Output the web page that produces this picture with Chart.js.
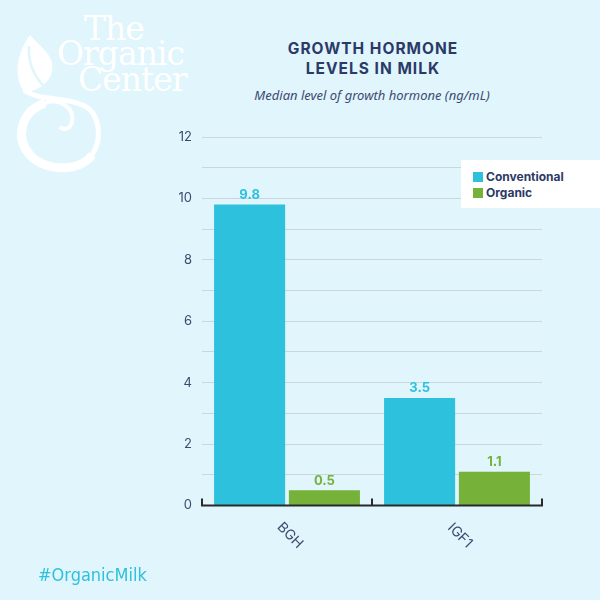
<!DOCTYPE html>
<html>
<head>
<meta charset="utf-8">
<script src="https://cdn.jsdelivr.net/npm/chart.js@4"></script>
<style>
  html, body { margin: 0; padding: 0; }
  body { width: 600px; height: 600px; background: #e0f5fc; position: relative; overflow: hidden; font-family: "Open Sans", sans-serif; }
  #wrap { position: absolute; left: 0; top: 0; width: 600px; height: 600px; }
  .logo-text { position: absolute; color: #fff; font-family: "DejaVu Serif", "Liberation Serif", serif; font-size: 33px; line-height: 26px; letter-spacing: -1px; }
  .title { position: absolute; left: 223px; width: 300px; top: 39px; text-align: center; font-family: Inter, "Open Sans", sans-serif; font-weight: 700; font-size: 15.5px; line-height: 20px; letter-spacing: 1px; color: #2b3a67; }
  .subtitle { position: absolute; left: 222px; width: 300px; top: 86px; text-align: center; font-family: "Noto Sans", sans-serif; font-style: italic; font-size: 13px; color: #3c4a70; }
  .legend { position: absolute; left: 461px; top: 160px; width: 150px; height: 48px; background: #fff; }
  .legend div { position: absolute; left: 12px; font-family: Inter, sans-serif; font-weight: 700; font-size: 12px; color: #2b3a67; }
  .legend span { display: inline-block; width: 10px; height: 10px; margin-right: 3px; vertical-align: -1px; }
  .hashtag { position: absolute; left: 38px; top: 564px; font-family: "Liberation Sans Narrow", "DejaVu Sans Condensed", sans-serif; font-size: 18px; color: #2ec1dd; }
</style>
</head>
<body>
<svg style="position:absolute;left:0;top:0" width="220" height="180">
  <path d="M30 35 C15 55 14 80 25 93 C40 90 55 80 52 63 C50 52 38 45 30 35 Z" fill="#fff"/>
  <path d="M29 46 C28 62 34 78 48 90" stroke="#e0f5fc" stroke-width="2.5" fill="none"/>
  <path d="M24 90 C40 102 70 96 88 108 C100 118 102 140 92 155" stroke="#fff" stroke-width="5" fill="none"/>
  <path d="M92 155 C80 172 45 172 30 155 C15 138 20 112 45 103" stroke="#fff" stroke-width="9" fill="none"/>
  <path d="M45 103 C60 98 75 108 72 122 C70 130 63 130 60 127" stroke="#fff" stroke-width="4" fill="none"/>
</svg>
<div class="logo-text" style="left:84px;top:16px">The</div>
<div class="logo-text" style="left:57px;top:41px">Organic</div>
<div class="logo-text" style="left:78px;top:67px">Center</div>
<div class="title">GROWTH HORMONE<br>LEVELS IN MILK</div>
<div class="subtitle">Median level of growth hormone (ng/mL)</div>
<div id="wrap"><canvas id="chart" width="600" height="600"></canvas></div>
<div class="legend">
  <div style="top:9px"><span style="background:#2ec1dd"></span>Conventional</div>
  <div style="top:25px"><span style="background:#76b13a"></span>Organic</div>
</div>
<div class="hashtag">#OrganicMilk</div>
<script>
const categories = ['BGH', 'IGF1'];
const conventionalValues = [9.8, 3.5];
const organicValues = [0.5, 1.1];
const yTicks = [0, 2, 4, 6, 8, 10, 12];

const cyan = '#2ec1dd';
const green = '#76b13a';
const navy = '#3c4a70';

// draws value labels, the bracket-style x axis and rotated category labels
const decorations = {
  id: 'decorations',
  afterDatasetsDraw(chart) {
    const ctx = chart.ctx;
    const x = chart.scales.x;
    const area = chart.chartArea;
    ctx.save();
    ctx.font = 'bold 13px Inter, sans-serif';
    ctx.textAlign = 'center';
    ctx.textBaseline = 'bottom';
    chart.data.datasets.forEach((ds, i) => {
      chart.getDatasetMeta(i).data.forEach((bar, j) => {
        ctx.fillStyle = ds.backgroundColor;
        ctx.fillText(ds.data[j].toFixed(1), bar.x, bar.y - 3);
      });
    });

    // axis line with upward ticks at category edges
    ctx.strokeStyle = '#2a2a2a';
    ctx.lineWidth = 2;
    ctx.beginPath();
    ctx.moveTo(area.left, area.bottom - 7);
    ctx.lineTo(area.left, area.bottom);
    ctx.lineTo(area.right, area.bottom);
    ctx.lineTo(area.right, area.bottom - 7);
    ctx.stroke();
    const half = (x.getPixelForValue(1) - x.getPixelForValue(0)) / 2;
    for (let i = 1; i < categories.length; i++) {
      const px = x.getPixelForValue(i) - half;
      ctx.beginPath();
      ctx.moveTo(px, area.bottom);
      ctx.lineTo(px, area.bottom - 7);
      ctx.stroke();
    }

    ctx.fillStyle = navy;
    ctx.font = '14px Inter, sans-serif';
    ctx.textBaseline = 'middle';
    categories.forEach((c, i) => {
      const px = x.getPixelForValue(i);
      ctx.save();
      ctx.translate(px + 3, area.bottom + 30);
      ctx.rotate(Math.PI / 4);
      ctx.fillText(c, 0, 0);
      ctx.restore();
    });
    ctx.restore();
  }
};

new Chart(document.getElementById('chart'), {
  type: 'bar',
  data: {
    labels: categories,
    datasets: [
      { label: 'Conventional', data: conventionalValues, backgroundColor: cyan },
      { label: 'Organic', data: organicValues, backgroundColor: green }
    ]
  },
  options: {
    responsive: false,
    animation: false,
    layout: { padding: { top: 137, right: 58, left: 0, bottom: 0 } },
    categoryPercentage: 0.88,
    barPercentage: 0.95,
    scales: {
      x: {
        grid: { display: false },
        border: { display: false },
        ticks: { display: false },
        afterFit: s => { s.height = 94.5; }
      },
      y: {
        min: 0,
        max: 12,
        ticks: {
          stepSize: 1,
          padding: 10,
          color: navy,
          font: { family: 'Inter, sans-serif', size: 13 },
          callback: v => yTicks.includes(v) ? v : ''
        },
        grid: { color: '#c9d6db', drawTicks: false },
        border: { display: false },
        afterFit: s => { s.width = 202; }
      }
    },
    plugins: {
      legend: { display: false },
      tooltip: { enabled: false }
    }
  },
  plugins: [decorations]
});
</script>
</body>
</html>
